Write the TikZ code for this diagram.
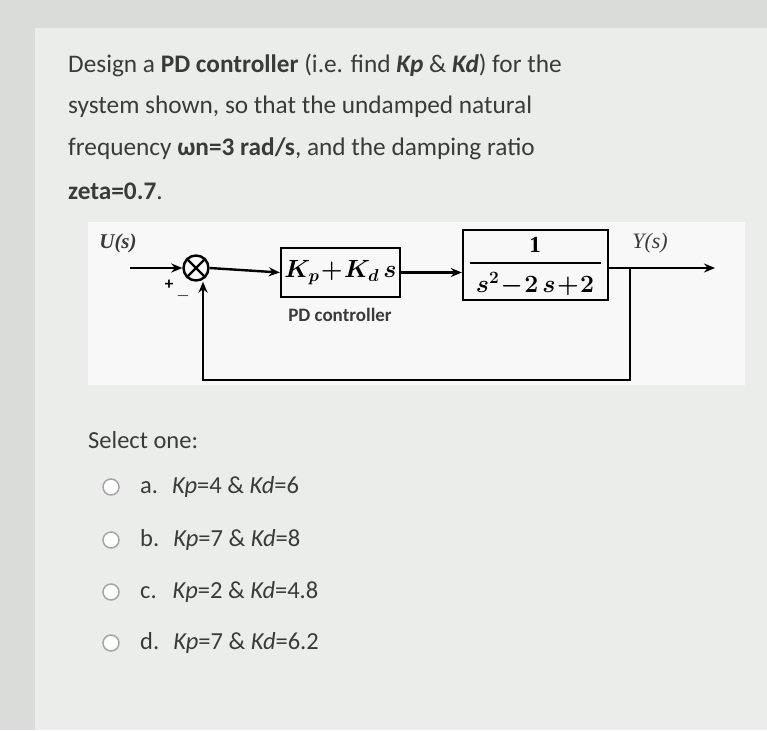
\documentclass[tikz,border=0pt]{standalone}
\usepackage{amsmath,bm}
\usepackage{fontspec}
\setmainfont{Carlito}
\newfontfamily\tms{Liberation Serif}
\usetikzlibrary{arrows.meta}
\definecolor{txt}{HTML}{3A3A3A}
\definecolor{bgout}{HTML}{D9DCD9}
\definecolor{panel}{HTML}{EBEDEB}
\begin{document}
\begin{tikzpicture}[x=1pt,y=-1pt,
  q/.style={anchor=west,inner sep=0pt,text=txt,font=\fontsize{25.3}{25}\selectfont},
  opt/.style={anchor=west,inner sep=0pt,text=txt,font=\fontsize{24.5}{24}\selectfont},
  blk/.style={draw,line width=2.4pt,inner sep=0pt},
  ln/.style={line width=2.4pt},
  arr/.style={ln,-{Stealth[length=11pt,width=9pt]}},
  radio/.style={circle,draw=gray!70,line width=1.5pt,minimum size=16pt,inner sep=0pt,fill=white}]
\useasboundingbox (0,0) rectangle (767,730);
\fill[bgout] (0,0) rectangle (767,730);
\fill[panel] (35,28) rectangle (767,730);
\node[q] (l1) at (68,65) {Design a \textbf{PD controller} (i.e. find \textbf{\textit{Kp}} \& \textbf{\textit{Kd}}) for the};
\node[q] (l2) at (68,107) {system shown, so that the undamped natural};
\node[q] (l3) at (68,149) {frequency \textbf{ωn=3 rad/s}, and the damping ratio};
\node[q] (l4) at (68,191) {\textbf{zeta=0.7}.};
% block diagram
\fill[white!60!panel] (88,222) rectangle (745,385);
\node[font=\tms\bfseries\itshape\fontsize{21}{21}\selectfont,text=txt] (u) at (118,243) {U(s)};
\coordinate (in) at (130,268);
\node[circle,draw,line width=2.4pt,minimum size=25pt,inner sep=0pt] (sum) at (196,268) {};
\draw[ln] (sum.north west) -- (sum.south east) (sum.north east) -- (sum.south west);
\node[blk,minimum width=119pt,minimum height=49pt] (pd) at (340.5,272.5) {\fontsize{23}{23}\selectfont $\bm{K_p\!+\!K_d\,s}$};
\node[font=\bfseries\fontsize{19}{19}\selectfont,text=txt] (pdl) at (340,315) {PD controller};
\node[blk,minimum width=145pt,minimum height=70pt] (g) at (535.5,265) {};
\node[font=\tms\bfseries\fontsize{23}{23}\selectfont] (num) at (535,245) {1};
\draw[ln] (470,263) -- (601,263);
\node[font=\fontsize{23}{23}\selectfont] (den) at (535,284) {$\bm{s^2\!-\!2\,s\!+\!2}$};
\node[font=\tms\itshape\fontsize{22}{22}\selectfont,text=txt] (y) at (650,243) {Y(s)};
\coordinate (out) at (715,268);
\coordinate (tap) at (630,268);
\coordinate (c1) at (630,380);
\coordinate (c2) at (203,380);
\draw[arr] (in) -- (sum.west);
\draw[arr] (sum.east) -- (pd.west);
\draw[arr] (pd.east) -- (g.west|-pd.east);
\draw[arr] (g.east|-tap) -- (out);
\draw[arr] (tap) -- (c1) -- (c2) -- (c2|-sum.south);
\node[font=\bfseries\fontsize{17}{17}\selectfont] (plus) at (169,285) {+};
\node[font=\bfseries\fontsize{19}{19}\selectfont] (minus) at (183,296) {$-$};
% options
\node[opt] (sel) at (88,440) {Select one:};
\node[radio] (ra) at (111,487) {};
\node[opt] (ta) at (140,487) {a.\hspace{14pt}\textit{Kp}=4 \& \textit{Kd}=6};
\node[radio] (rb) at (111,540) {};
\node[opt] (tb) at (140,540) {b.\hspace{14pt}\textit{Kp}=7 \& \textit{Kd}=8};
\node[radio] (rc) at (111,592) {};
\node[opt] (tc) at (140,592) {c.\hspace{16pt}\textit{Kp}=2 \& \textit{Kd}=4.8};
\node[radio] (rd) at (111,643) {};
\node[opt] (td) at (140,643) {d.\hspace{14pt}\textit{Kp}=7 \& \textit{Kd}=6.2};
\end{tikzpicture}
\end{document}
